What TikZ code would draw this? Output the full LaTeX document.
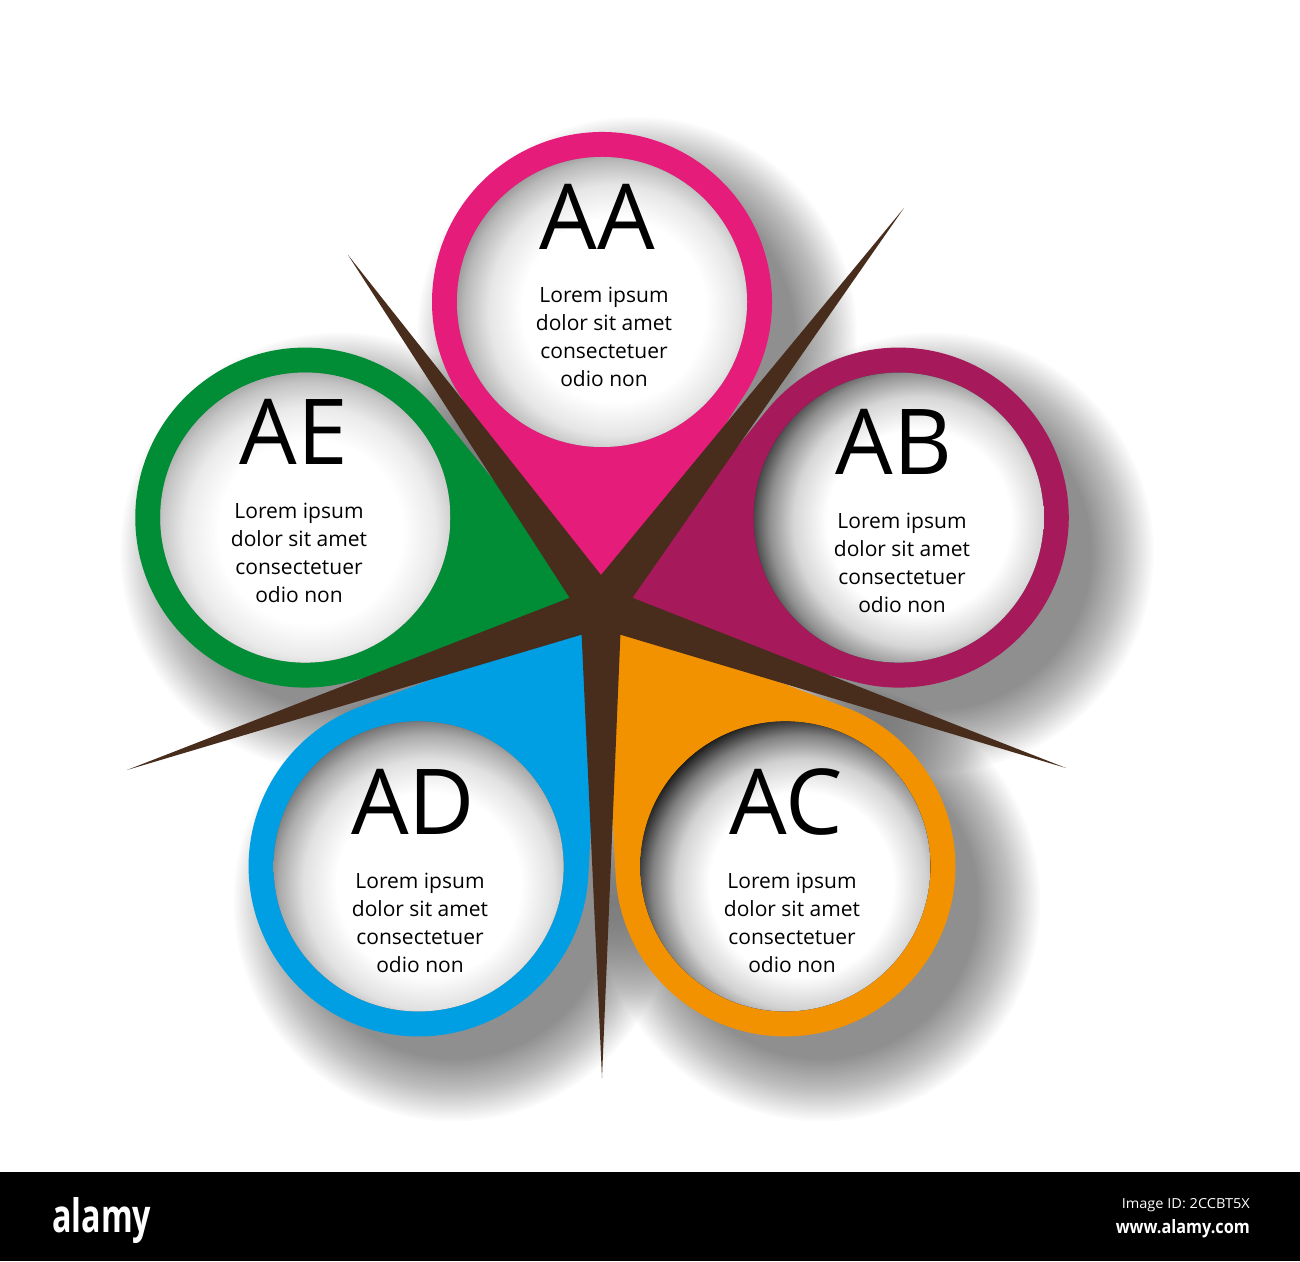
\documentclass[tikz,border=0pt]{standalone}
\usepackage{fontspec}
\setmainfont{Open Sans}
\usetikzlibrary{calc}
\definecolor{cAA}{HTML}{E61C7A}
\definecolor{cAB}{HTML}{A6195B}
\definecolor{cAC}{HTML}{F39200}
\definecolor{cAD}{HTML}{009FE3}
\definecolor{cAE}{HTML}{008D36}
\definecolor{starbrown}{HTML}{482C1C}
\colorlet{insetc}{black!50}
\pgfdeclareradialshading[insetc]{inset}{\pgfpointorigin}{color(0bp)=(white); color(13.5bp)=(white); color(18.4bp)=(insetc!20!white); color(22bp)=(insetc!55!white); color(25bp)=(insetc); color(50bp)=(insetc)}
\tikzset{
  bigletters/.style={font=\fontsize{91}{91}\selectfont, anchor=base, inner sep=0pt, text=black},
  bodyline/.style={font=\fontsize{21}{28}\selectfont, anchor=base, inner sep=0pt, text=black},
  shadowlayer/.style={fill=black, fill opacity=0.016},
  starshape/.style={fill=starbrown},
  footer/.style={text=white, inner sep=0pt}
}
\begin{document}
\begin{tikzpicture}[x=1pt,y=1pt]
\useasboundingbox (0,0) rectangle (1300,1261);
\fill[white] (0,0) rectangle (1300,1261);
\coordinate (O) at (602,647);
\coordinate (S) at (601,653);
\foreach \n/\a in {AA/90, AB/18, AC/-54, AD/-126, AE/162}{
  \coordinate (\n) at ($(O)+(\a:312)$);
}
% soft shadows
\foreach \n in {AA,AB,AC,AD,AE}{
  \foreach \k in {0,...,31}{
    \fill[shadowlayer] ($(\n)+(35,-35)$) circle ({158+2*\k});
  }
}
% teardrop petals
\foreach \n/\a/\c in {AA/90/cAA, AB/18/cAB, AC/-54/cAC, AD/-126/cAD, AE/162/cAE}{
  \pgfmathsetmacro\sa{\a-123}
  \pgfmathsetmacro\ea{\a+123}
  \fill[\c] (O) -- ($(\n)+(\sa:170)$) arc[start angle=\sa, end angle=\ea, radius=170] -- cycle;
}
% star
\coordinate (tTL) at (348,1006);
\coordinate (tTR) at (904,1053);
\coordinate (tR) at (1066,493);
\coordinate (tB) at (602,183);
\coordinate (tL) at (127,491);
\fill[starshape] (tTR) -- ($(S)+(90:33)$) -- (tTL) -- ($(S)+(162:33)$) -- (tL) -- ($(S)+(234:33)$) -- (tB) -- ($(S)+(306:33)$) -- (tR) -- ($(S)+(18:33)$) -- cycle;
% inner circles with inset shadow
\foreach \n/\dx/\dy/\d in {AA/12/-8/50, AB/20/-4/80, AC/16/-18/90, AD/10/-18/60, AE/5/-14/42}{
  \colorlet{insetc}{black!\d}
  \begin{scope}
    \clip (\n) circle (145);
    \fill[insetc] (\n) circle (146);
    \shade[shading=inset] ($(\n)+(\dx,\dy)$) circle (170);
  \end{scope}
}
% texts
\foreach \n/\lx/\lb/\tx/\tb in {AA/597/250/604/303, AB/894/475/902/529, AC/786/835/792/889, AD/413/835/420/889, AE/294/465/299/519}{
  \node[bigletters] (\n-title) at (\lx,{1261-\lb}) {\n};
  \node[bodyline] (\n-l1) at (\tx,{1261-\tb}) {Lorem ipsum};
  \node[bodyline] (\n-l2) at (\tx,{1261-\tb-27.7}) {dolor sit amet};
  \node[bodyline] (\n-l3) at (\tx,{1261-\tb-55.4}) {consectetuer};
  \node[bodyline] (\n-l4) at (\tx,{1261-\tb-83.1}) {odio non};
}
% footer bar
\fill[black] (0,0) rectangle (1300,89);
\node[footer, anchor=base west] (logo) at (52,29) {\resizebox{99pt}{35pt}{\bfseries alamy}};
\node[footer, anchor=base east] (imgid) at (1250,53) {\resizebox{128pt}{10pt}{Image ID: 2CCBT5X}};
\node[footer, anchor=base east] (url) at (1250,28) {\resizebox{134pt}{14pt}{\bfseries www.alamy.com}};
\end{tikzpicture}
\end{document}
